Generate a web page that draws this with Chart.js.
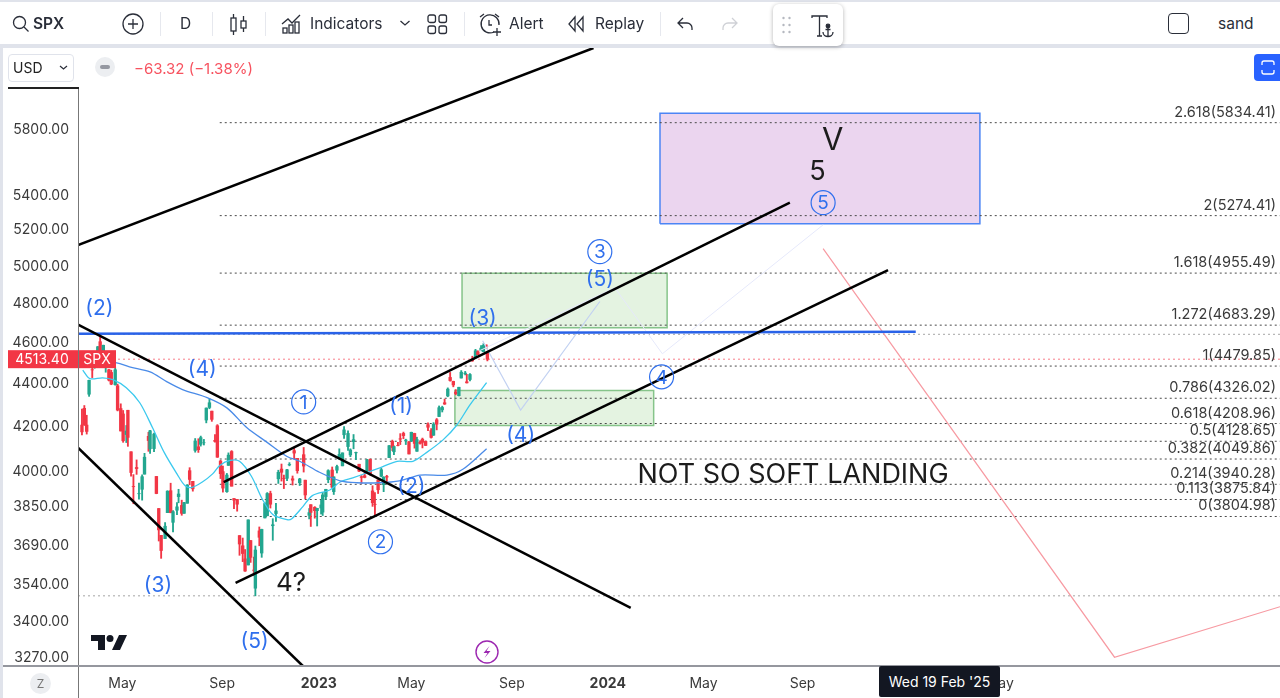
<!DOCTYPE html>
<html lang="en">
<head>
<meta charset="utf-8" />
<title>SPX</title>
<script src="https://cdn.jsdelivr.net/npm/chart.js@4.4.1/dist/chart.umd.min.js"></script>
<style>
  * { box-sizing: border-box; }
  html, body { margin: 0; padding: 0; background: #fff; width: 1280px; height: 698px; overflow: hidden; }
  body { font-family: Inter, "Noto Sans", sans-serif; color: #222; position: relative; }
  canvas { position: absolute; left: 0; top: 0; }
  .ui { position: absolute; white-space: nowrap; }
  .txt { font-size: 15.5px; line-height: 20px; top: 14px; color: #2a2e39; }
  .sep { position: absolute; top: 12px; width: 1px; height: 24px; background: #e6e8ee; }
  svg.ui { fill: none; stroke: #2a2e39; stroke-width: 1.3; }
</style>
</head>
<body>
<canvas id="chart" width="1280" height="698"></canvas>

<div class="ui" style="left:0;top:0;width:1280px;height:44px;background:#fff;border-top:2px solid #e0e3eb"></div>
<div class="ui" style="left:0;top:44px;width:1280px;height:4px;background:#e0e3eb"></div>
<div class="ui" style="left:0;top:44px;width:3px;height:654px;background:#e0e3eb"></div>
<div class="ui" style="left:78px;top:88px;width:1px;height:610px;background:#777"></div>
<div class="ui" style="left:8px;top:87px;width:71px;height:2px;background:#222"></div>
<div class="ui" style="left:3px;top:665px;width:1277px;height:2px;background:#95979e"></div>

<svg class="ui" style="left:11px;top:14px" width="20" height="20"><circle cx="8.5" cy="8.5" r="6"/><path d="M13 13l4.5 4.5"/></svg>
<div class="ui txt" style="left:33px;font-weight:600;font-size:15.5px">SPX</div>
<svg class="ui" style="left:122px;top:13px" width="22" height="22"><circle cx="11" cy="11" r="10"/><path d="M11 6v10M6 11h10"/></svg>
<div class="sep" style="left:160px"></div>
<div class="ui txt" style="left:180px">D</div>
<div class="sep" style="left:212px"></div>
<svg class="ui" style="left:229px;top:12px" width="20" height="24"><rect x="2" y="6" width="5" height="13"/><path d="M4.500 2v4M4.500 19v4"/><rect x="12" y="9" width="5" height="7"/><path d="M14.500 4v5M14.500 16v4"/></svg>
<div class="sep" style="left:265px"></div>
<svg class="ui" style="left:281px;top:13px" width="22" height="22"><path d="M1 11l6-5 4 4 8-8"/><rect x="2" y="15" width="4" height="5"/><rect x="8" y="12" width="4" height="8"/><rect x="14" y="9" width="4" height="11"/></svg>
<div class="ui txt" style="left:310px">Indicators</div>
<svg class="ui" style="left:399px;top:19px" width="12" height="9"><path d="M1.500 2l4.500 4 4.500-4"/></svg>
<svg class="ui" style="left:427px;top:14px" width="21" height="21"><rect x="1" y="1" width="7.500" height="7.500" rx="2"/><rect x="12" y="1" width="7.500" height="7.500" rx="2"/><rect x="1" y="12" width="7.500" height="7.500" rx="2"/><rect x="12" y="12" width="7.500" height="7.500" rx="2"/></svg>
<div class="sep" style="left:464px"></div>
<svg class="ui" style="left:478px;top:12px" width="26" height="26"><path d="M16 20a9 9 0 1 1 5-7"/><path d="M11 8v5h3M2 5l4-3M17 2l4 3M19 16v8M15 20h8"/></svg>
<div class="ui txt" style="left:509px">Alert</div>
<svg class="ui" style="left:567px;top:15px" width="20" height="18"><path d="M8 2L2 9l6 7zM16 2l-6 7 6 7z"/></svg>
<div class="ui txt" style="left:595px">Replay</div>
<div class="sep" style="left:660px"></div>
<svg class="ui" style="left:676px;top:15px" width="20" height="18"><path d="M7 3L2 8l5 5M2 8h9a5 5 0 0 1 5 5v2"/></svg>
<svg class="ui" style="left:719px;top:15px;stroke:#cfd1d6" width="20" height="18"><path d="M13 3l5 5-5 5M18 8H9a5 5 0 0 0-5 5v2"/></svg>

<div class="ui" style="left:773px;top:4px;width:70px;height:42px;background:#fff;border-radius:6px;box-shadow:0 1px 4px rgba(0,0,0,.3)"></div>
<svg class="ui" style="left:781px;top:15px;fill:#b5b8c0;stroke:none" width="12" height="20"><circle cx="2.500" cy="3" r="1.200"/><circle cx="8.500" cy="3" r="1.200"/><circle cx="2.500" cy="10" r="1.200"/><circle cx="8.500" cy="10" r="1.200"/><circle cx="2.500" cy="17" r="1.200"/><circle cx="8.500" cy="17" r="1.200"/></svg>
<svg class="ui" style="left:810px;top:14px" width="26" height="26"><path d="M2 4V2h15v2M9.500 2v20M7 22h5"/><circle cx="18" cy="12" r="1.800" fill="#2a2e39"/><path d="M18 13v10M13 18c0 6 10 6 10 0M15.500 15.500h5"/></svg>

<div class="ui" style="left:1168px;top:13px;width:21px;height:21px;border:1.500px solid #2a2e39;border-radius:4px"></div>
<div class="ui txt" style="left:1218px">sand</div>

<div class="ui" style="left:8px;top:54px;width:66px;height:28px;border:1px solid #e0e3eb;border-radius:4px;font-size:14px;line-height:26px;padding-left:4px">USD</div>
<svg class="ui" style="left:59px;top:65px;stroke-width:1.200" width="9" height="6"><path d="M1 1l3.500 3 3.500-3"/></svg>
<div class="ui" style="left:95px;top:57px;width:20px;height:20px;border-radius:50%;background:#eceef1"></div>
<div class="ui" style="left:100px;top:65px;width:10px;height:4px;border-radius:2px;background:#9598a1"></div>
<div class="ui" style="left:134px;top:59px;font-size:15px;line-height:20px;color:#f7525f">−63.32 (−1.38%)</div>
<div class="ui" style="left:1254px;top:54px;width:30px;height:27px;border-radius:4px;background:#2962ff"></div>
<svg class="ui" style="left:1261px;top:60px;stroke:#fff;stroke-width:1.300" width="14" height="15"><path d="M1 5V3a2 2 0 0 1 2-2h8a2 2 0 0 1 2 2v2M1 10v2a2 2 0 0 0 2 2h8a2 2 0 0 0 2-2v-2"/></svg>

<svg class="ui" style="left:91px;top:635px;stroke:none;fill:#131722" width="36" height="18"><path d="M0 0h14v15H7V6H0z"/><circle cx="19" cy="3.500" r="3.500"/><path d="M28 0h8l-7 15h-8z"/></svg>
<svg class="ui" style="left:475px;top:640px;stroke:#9c27b0;stroke-width:1.400" width="24" height="24"><circle cx="12" cy="12" r="11"/><path d="M14.500 6l-6 7h4l-3 5 6-7h-4z" fill="#9c27b0" stroke="none"/></svg>
<div class="ui" style="left:30px;top:673px;width:21px;height:21px;border-radius:50%;background:#eceef1;color:#777;font-size:12px;line-height:21px;text-align:center">Z</div>
<div class="ui" style="left:879px;top:666px;width:121px;height:31px;background:#131722;color:#fff;border-radius:2px;font-size:14px;line-height:31px;text-align:center">Wed 19 Feb '25</div>

<script>
// Days are counted from 1 Jan 2022, so the x axis is a plain linear scale
const candleDates = [
  "2022-03-08","2022-03-11","2022-03-14","2022-03-17","2022-03-21","2022-03-24","2022-03-28","2022-03-31","2022-04-04","2022-04-07",
  "2022-04-11","2022-04-14","2022-04-19","2022-04-22","2022-04-26","2022-04-29","2022-05-03","2022-05-05","2022-05-09","2022-05-12",
  "2022-05-16","2022-05-19","2022-05-23","2022-05-26","2022-05-31","2022-06-02","2022-06-07","2022-06-10","2022-06-13","2022-06-16",
  "2022-06-21","2022-06-24","2022-06-28","2022-07-01","2022-07-06","2022-07-08","2022-07-12","2022-07-15","2022-07-19","2022-07-22",
  "2022-07-26","2022-07-29","2022-08-02","2022-08-05","2022-08-09","2022-08-12","2022-08-16","2022-08-19","2022-08-23","2022-08-26",
  "2022-08-30","2022-09-02","2022-09-07","2022-09-09","2022-09-13","2022-09-16","2022-09-20","2022-09-23","2022-09-27","2022-09-30",
  "2022-10-04","2022-10-07","2022-10-11","2022-10-13","2022-10-18","2022-10-21","2022-10-25","2022-10-28","2022-11-01","2022-11-04",
  "2022-11-08","2022-11-11","2022-11-15","2022-11-18","2022-11-22","2022-11-25","2022-11-29","2022-12-01","2022-12-05","2022-12-08",
  "2022-12-13","2022-12-15","2022-12-20","2022-12-22","2022-12-27","2022-12-30","2023-01-04","2023-01-06","2023-01-10","2023-01-13",
  "2023-01-18","2023-01-20","2023-01-24","2023-01-27","2023-01-31","2023-02-02","2023-02-07","2023-02-10","2023-02-14","2023-02-17",
  "2023-02-21","2023-02-24","2023-02-28","2023-03-03","2023-03-07","2023-03-10","2023-03-13","2023-03-17","2023-03-21","2023-03-24",
  "2023-03-28","2023-03-31","2023-04-04","2023-04-06","2023-04-11","2023-04-14","2023-04-18","2023-04-21","2023-04-25","2023-04-28",
  "2023-05-02","2023-05-05","2023-05-09","2023-05-12","2023-05-16","2023-05-19","2023-05-23","2023-05-26","2023-05-30","2023-06-02",
  "2023-06-06","2023-06-09","2023-06-13","2023-06-16","2023-06-20","2023-06-23","2023-06-27","2023-06-30","2023-07-05","2023-07-07",
  "2023-07-11","2023-07-14","2023-07-18","2023-07-21","2023-07-25","2023-07-28","2023-08-01","2023-08-02",
];
const opens = [
  4202,4279,4202,4345,4462,4494,4541,4600,4547,4474,4462,4449,4390,4385,4278,4253,4159,4270,4082,3931,
  4013,3900,3919,3984,4151,4095,4096,3974,3838,3728,3715,3821,3913,3781,3831,3888,3851,3818,3860,3999,
  3953,4088,4104,4115,4122,4225,4283,4266,4133,4199,4041,3995,3909,4022,4083,3880,3876,3727,3686,3634,
  3610,3707,3590,3520,3746,3657,3799,3808,3901,3767,3817,3964,4006,3966,3966,4024,3964,4087,4053,3947,
  4069,3958,3810,3854,3843,3829,3840,3823,3888,3960,4002,3909,4001,4053,4020,4158,4105,4068,4127,4077,
  4027,3973,3977,3999,4048,3912,3856,3959,3975,3939,3974,4056,4128,4082,4110,4140,4164,4132,4127,4129,
  4164,4084,4124,4138,4128,4204,4177,4156,4226,4241,4272,4305,4337,4425,4406,4355,4338,4422,4442,4404,
  4415,4514,4521,4550,4555,4550,4578,4550,
];
const highs = [
  4276,4292,4247,4412,4481,4521,4576,4637,4583,4521,4464,4460,4471,4393,4300,4269,4200,4270,4082,3982,
  4046,3945,3981,4075,4169,4178,4165,3974,3838,3728,3780,3913,3945,3829,3863,3919,3873,3864,3939,4012,
  3953,4141,4140,4152,4137,4281,4325,4266,4159,4204,4044,4019,3987,4077,4087,3880,3876,3727,3717,3671,
  3791,3707,3641,3685,3762,3753,3862,3905,3911,3796,3860,4001,4028,3980,4005,4034,3976,4100,4053,3966,
  4101,3958,3838,3854,3846,3839,3873,3906,3919,4003,4015,3973,4023,4095,4077,4195,4176,4095,4159,4081,
  4027,3978,3998,4048,4050,3934,3905,3959,4009,3973,3979,4110,4134,4108,4124,4163,4170,4138,4127,4170,
  4165,4147,4131,4143,4130,4212,4186,4213,4232,4290,4289,4322,4375,4449,4407,4367,4378,4458,4454,4440,
  4443,4528,4562,4555,4580,4590,4585,4551,
];
const lows = [
  4157,4200,4161,4335,4424,4469,4517,4530,4520,4450,4408,4390,4388,4267,4175,4124,4123,4106,3975,3858,
  3983,3877,3873,3984,4084,4075,4082,3900,3705,3636,3715,3821,3820,3742,3813,3862,3810,3818,3860,3938,
  3911,4080,4079,4107,4112,4212,4277,4219,4125,4057,3965,3907,3906,4022,3933,3837,3827,3648,3623,3585,
  3610,3620,3568,3491,3686,3640,3799,3808,3840,3708,3785,3944,3954,3922,3956,4020,3937,4050,3988,3935,
  3993,3879,3795,3764,3798,3766,3815,3809,3877,3947,3926,3897,3989,4048,4020,4141,4088,4060,4095,4047,
  3995,3944,3968,3995,3980,3847,3808,3901,3972,3909,3951,4056,4087,4069,4108,4114,4140,4114,4072,4127,
  4098,4084,4116,4099,4109,4177,4143,4155,4180,4241,4262,4297,4333,4407,4380,4342,4337,4422,4437,4398,
  4408,4503,4519,4535,4555,4550,4567,4505,
];
const closes = [
  4171,4204,4173,4411,4461,4520,4575,4545,4582,4500,4412,4393,4462,4271,4175,4131,4175,4146,3991,3930,
  4008,3901,3973,4058,4132,4176,4161,3901,3750,3667,3765,3911,3821,3825,3845,3899,3818,3863,3937,3961,
  3921,4130,4091,4145,4122,4280,4305,4228,4128,4058,3986,3924,3980,4067,3932,3873,3856,3693,3655,3586,
  3791,3640,3589,3669,3720,3752,3859,3901,3856,3771,3828,3992,3992,3965,4003,4026,3958,4076,3999,3963,
  4019,3895,3821,3822,3829,3839,3853,3895,3919,3999,3928,3972,4017,4070,4077,4180,4164,4090,4136,4079,
  3997,3970,3970,4046,3986,3862,3855,3917,4003,3971,3971,4109,4101,4105,4109,4138,4154,4134,4072,4169,
  4119,4136,4119,4124,4110,4192,4146,4205,4206,4282,4283,4299,4369,4410,4389,4348,4378,4450,4446,4399,
  4439,4505,4555,4536,4568,4582,4577,4513,
];

const ma50Days = [67,76,92,105,122,139,155,170,186,196,205,218,231,240,253,265,280,294,307,325,331,345,357,379,392,408,426,446,464,484,501,522,539,556,577];
const ma50Values = [4460,4419,4423,4414,4376,4305,4191,4078,3985,3935,3927,3950,3985,4022,4044,4040,3975,3876,3813,3792,3796,3846,3892,3916,3950,3968,3990,4017,4040,4040,4078,4135,4200,4295,4400];
const ma200Days = [61,110,126,152,173,193,224,249,274,299,325,341,366,392,413,442,467,493,527,547,577];
const ma200Values = [4518,4495,4476,4452,4405,4367,4329,4281,4191,4126,4061,4040,3992,3955,3947,3947,3955,3980,3980,4005,4095];

const fibPrices = [5834.41,5274.41,4955.49,4683.29,4479.85,4326.02,4208.96,4128.65,4049.86,3940.28,3875.84,3804.98];
const fibLabels = ["2.618(5834.41)","2(5274.41)","1.618(4955.49)","1.272(4683.29)","1(4479.85)","0.786(4326.02)","0.618(4208.96)","0.5(4128.65)","0.382(4049.86)","0.214(3940.28)","0.113(3875.84)","0(3804.98)"];
const fibStartDay = 240;
const rangePrices = [4637, 3491];
const lastPrice = 4513.4;

const trendLines = [
  [[61,5109],[712,6327]],
  [[245,3950],[960,5349]],
  [[260,3540],[1084,4972]],
  [[61,4686],[759,3446]],
  [[61,4100],[345,3235]],
];
const resistanceLine = [[61,4640],[1119,4650]];
const projectionRed = [[1002,5089],[1370,3266],[1579,3450]];
const projectionBlue = [[572,4605],[620,4271],[720,4805]];
const projectionPale = [[568,4555],[739,4877],[799,4540],[1002,5222]];

const purpleBox = [796,1200,5228,5895];
const greenBoxes = [[546,805,4670,4955],[537,788,4200,4362]];

const waveLabels = [["(2)",88,4774],["(4)",218,4471],["(3)",162,3536],["(5)",284,3328],["(1)",469,4295],["(2)",482,3936],["(4)",620,4161],["(3)",572,4726],["(5)",720,4926]];
const circledLabels = [["1",346,4309],["2",443,3702],["3",720,5072],["4",798,4428],["5",1002,5349]];
const blackLabels = [["4?",330,3541,26],["5",995,5533,27],["V",1014,5720,31],["NOT SO SOFT LANDING",964,3982,27]];

const yTicks = [3270,3400,3540,3690,3850,4000,4200,4400,4600,4800,5000,5200,5400,5800];
const xTickDays = [117,243,365,482,609,730,851,976,1096,1225];
const xTickLabels = ["May","Sep","2023","May","Sep","2024","May","Sep","2025","May"];

const UP = "#22a68f";
const DOWN = "#f23645";
const FONT = "Inter, 'Noto Sans', sans-serif";

function dayOf(date) {
  return Math.round((Date.parse(date) - Date.UTC(2022, 0, 1)) / 86400000);
}

function lineSet(points, color, width, order, extra) {
  return {
    type: "line",
    data: points.map((p) => ({ x: p[0], y: p[1] })),
    borderColor: color,
    borderWidth: width,
    pointRadius: 0,
    tension: 0,
    order,
    ...extra,
  };
}

function boxSet(box, fill, stroke, width) {
  const [x0, x1, y0, y1] = box;
  const corners = [[x0,y0],[x1,y0],[x1,y1],[x0,y1],[x0,y0]];
  return lineSet(corners, stroke, width, 9, { fill: "shape", backgroundColor: fill });
}

const candleDays = candleDates.map(dayOf);
const candleColors = closes.map((c, i) => (c >= opens[i] ? UP : DOWN));

const zip = (xs, ys) => xs.map((x, i) => [x, ys[i]]);

const datasets = [
  boxSet(purpleBox, "#ebd5ef", "#4c85f5", 1.5),
  ...greenBoxes.map((b) => boxSet(b, "#e4f3e1", "#86c48a", 1.5)),
  ...fibPrices.map((p) => lineSet([[fibStartDay,p],[1579,p]], "#4a4a4a", 1, 8, { borderDash: [2, 3] })),
  ...rangePrices.map((p) => lineSet([[61,p],[1579,p]], "#a5a5a5", 1, 8, { borderDash: [2, 3] })),
  lineSet([[61,lastPrice],[1579,lastPrice]], "rgba(242,54,69,0.65)", 1, 8, { borderDash: [2, 3] }),
  {
    type: "bar",
    data: candleDays.map((d, i) => ({ x: d, y: [lows[i], highs[i]] })),
    backgroundColor: candleColors,
    barThickness: 1.2,
    order: 7,
  },
  {
    type: "bar",
    data: candleDays.map((d, i) => ({ x: d, y: [opens[i], closes[i]] })),
    backgroundColor: candleColors,
    barThickness: 2.7,
    order: 6,
  },
  lineSet(zip(ma200Days, ma200Values), "#4a8be8", 1.3, 5, { tension: 0.3 }),
  lineSet(zip(ma50Days, ma50Values), "#3bc9ee", 1.3, 5, { tension: 0.3 }),
  lineSet(projectionPale, "#e6e9fb", 1, 4),
  lineSet(projectionBlue, "#c3d2f2", 1.2, 4),
  lineSet(projectionRed, "#f79aa2", 1.2, 4),
  ...trendLines.map((t) => lineSet(t, "#000", 2.5, 3)),
  lineSet(resistanceLine, "#2962e8", 2.5, 3),
];

const drawingsPlugin = {
  id: "drawings",
  afterDatasetsDraw(chart) {
    const { ctx, scales: { x, y } } = chart;
    ctx.save();
    ctx.textAlign = "center";
    ctx.textBaseline = "middle";

    ctx.fillStyle = "#2f6fed";
    ctx.font = "21px " + FONT;
    waveLabels.forEach(([t, d, p]) => ctx.fillText(t, x.getPixelForValue(d), y.getPixelForValue(p) + 1.5));

    circledLabels.forEach(([t, d, p]) => {
      const px = x.getPixelForValue(d);
      const py = y.getPixelForValue(p);
      ctx.strokeStyle = "#2f6fed";
      ctx.lineWidth = 1.2;
      ctx.beginPath();
      ctx.arc(px, py, 12, 0, Math.PI * 2);
      ctx.stroke();
      ctx.font = "19px " + FONT;
      ctx.fillText(t, px, py + 1);
    });

    ctx.fillStyle = "#1c1c1c";
    blackLabels.forEach(([t, d, p, size]) => {
      ctx.font = size + "px " + FONT;
      ctx.fillText(t, x.getPixelForValue(d), y.getPixelForValue(p));
    });

    ctx.textAlign = "right";
    ctx.textBaseline = "alphabetic";
    ctx.fillStyle = "#3a3a3a";
    ctx.font = "14.5px " + FONT;
    fibPrices.forEach((p, i) => ctx.fillText(fibLabels[i], 1276, y.getPixelForValue(p) - 6));

    // last price tags on the axis
    const tagY = y.getPixelForValue(lastPrice);
    ctx.fillStyle = DOWN;
    ctx.fillRect(8, tagY - 9, 70, 18);
    ctx.fillRect(79, tagY - 9, 37, 18);
    ctx.fillStyle = "#fff";
    ctx.textAlign = "center";
    ctx.textBaseline = "middle";
    ctx.font = "14px " + FONT;
    ctx.fillText("4513.40", 42, tagY + 1);
    ctx.fillText("SPX", 97, tagY + 1);
    ctx.restore();
  },
};

new Chart(document.getElementById("chart"), {
  type: "bar",
  data: { datasets },
  plugins: [drawingsPlugin],
  options: {
    responsive: false,
    animation: false,
    events: [],
    layout: { autoPadding: false, padding: { top: 48, left: 0, right: 0, bottom: 0 } },
    datasets: { bar: { grouped: false } },
    plugins: { legend: { display: false }, tooltip: { enabled: false } },
    scales: {
      x: {
        type: "linear",
        offset: false,
        min: 61,
        max: 1579,
        grid: { display: false, drawTicks: false },
        border: { display: false },
        afterBuildTicks(scale) { scale.ticks = xTickDays.map((value) => ({ value })); },
        afterFit(scale) { scale.height = 32; },
        ticks: {
          autoSkip: false,
          maxRotation: 0,
          padding: 9,
          color: "#3a3a3a",
          font(ctx) {
            return { family: FONT, size: 14, weight: /^20/.test(xTickLabels[ctx.index]) ? "bold" : "normal" };
          },
          callback(value, index) { return xTickLabels[index]; },
        },
      },
      y: {
        type: "logarithmic",
        min: 3235,
        max: 6327,
        grid: { display: false, drawTicks: false },
        border: { display: false },
        afterBuildTicks(scale) { scale.ticks = yTicks.map((value) => ({ value })); },
        afterFit(scale) { scale.width = 78; },
        ticks: {
          autoSkip: false,
          padding: 9,
          labelOffset: 1.5,
          color: "#3a3a3a",
          font: { family: FONT, size: 14 },
          callback(value) { return Number(value).toFixed(2); },
        },
      },
    },
  },
});
</script>
</body>
</html>
